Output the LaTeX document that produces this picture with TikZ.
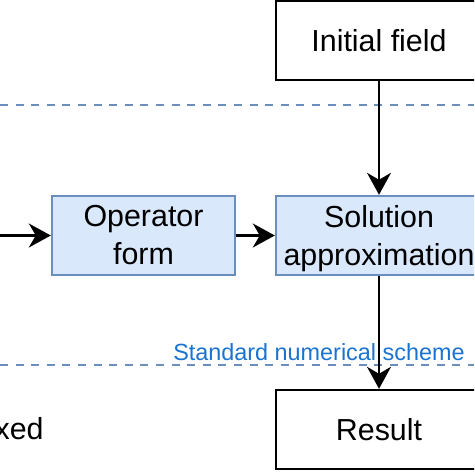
\documentclass[tikz,border=0pt]{standalone}
\usepackage{fontspec}
\setmainfont{Liberation Sans}
\usetikzlibrary{arrows.meta,positioning}
\definecolor{BoxBlue}{HTML}{DAE8FC}
\definecolor{EdgeBlue}{HTML}{6C8EBF}
\definecolor{LabelBlue}{HTML}{1A73D0}

\begin{document}
\begin{tikzpicture}[x=0.5pt,y=-0.5pt,
  plainbox/.style={draw=black,line width=1.2pt,fill=white,minimum height=39.5pt,
    inner sep=0pt,align=center,font=\fontsize{15.2}{19}\selectfont},
  stepbox/.style={plainbox,draw=EdgeBlue,fill=BoxBlue},
  flow/.style={line width=1.1pt,-{Stealth[length=11pt,width=12pt,inset=3.5pt]}},
  sepline/.style={EdgeBlue,line width=1.1pt,dash pattern=on 4pt off 3.8pt}]
  \useasboundingbox (0,0) rectangle (474,474);
  \clip (0,0) rectangle (474,474);
  % separators
  \draw[sepline] (0,105) -- (474,105);
  \draw[sepline] (0,365) -- (474,365);
  \node[anchor=east,inner sep=0pt,text=LabelBlue,font=\fontsize{11.7}{14}\selectfont]
    (schemelabel) at (465,352) {Standard numerical scheme};
  % boxes
  \node[plainbox,minimum width=103pt] (initfield) at (379,40.5) {Initial field};
  \node[stepbox,minimum width=91.5pt] (opform) at (143.5,235.5) {Operator\\form};
  \node[stepbox,minimum width=103pt] (solapprox) at (379,235.5)
    {Solution\\\raisebox{0pt}[\height][0pt]{approximation}};
  \node[plainbox,minimum width=103pt] (result) at (379,429.5) {Result};
  \node[anchor=base east,inner sep=0pt,font=\fontsize{15.2}{19}\selectfont]
    (mixedlabel) at (44,439.5) {Mixed};
  % connectors
  \coordinate (offleft) at (-30,235.5);
  \draw[flow] (offleft) -- (opform);
  \draw[flow] (opform) -- (solapprox);
  \draw[flow] (initfield.south -| solapprox.north) -- (solapprox.north);
  \draw[flow] (solapprox.south) -- (result.north);
\end{tikzpicture}
\end{document}
